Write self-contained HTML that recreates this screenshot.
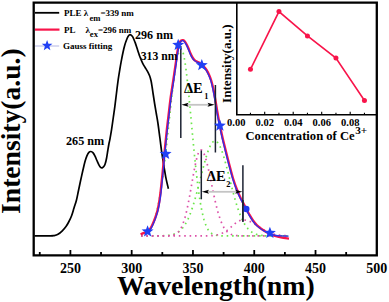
<!DOCTYPE html>
<html><head><meta charset="utf-8"><style>
html,body{margin:0;padding:0;background:#fff;width:389px;height:302px;overflow:hidden}
svg{display:block}
text{font-family:"Liberation Serif",serif;font-weight:bold}
</style></head><body>
<svg width="389" height="302" viewBox="0 0 389 302">
<rect width="389" height="302" fill="#fff"/>
<g font-family="Liberation Serif, serif" font-weight="bold">
<!-- gaussian components -->
<g fill="none" stroke-width="1.7" stroke-linecap="butt" stroke-dasharray="1.6 3.8">
<path d="M141.00,235.18 L142.00,234.95 L143.00,234.66 L144.00,234.29 L145.00,233.82 L146.00,233.24 L147.00,232.52 L148.00,231.64 L149.00,230.56 L150.00,229.25 L151.00,227.68 L152.00,225.82 L153.00,223.61 L154.00,221.02 L155.00,218.02 L156.00,214.55 L157.00,210.59 L158.00,206.11 L159.00,201.07 L160.00,195.46 L161.00,189.27 L162.00,182.51 L163.00,175.19 L164.00,167.34 L165.00,159.02 L166.00,150.29 L167.00,141.22 L168.00,131.91 L169.00,122.48 L170.00,113.05 L171.00,103.76 L172.00,94.74 L173.00,86.16 L174.00,78.16 L175.00,70.87 L176.00,64.45 L177.00,59.01 L178.00,54.65 L179.00,51.48 L180.00,49.55 L181.00,48.90 L182.00,49.76 L183.00,52.33 L184.00,56.52 L185.00,62.23 L186.00,69.31 L187.00,77.57 L188.00,86.80 L189.00,96.79 L190.00,107.31 L191.00,118.12 L192.00,129.02 L193.00,139.80 L194.00,150.29 L195.00,160.33 L196.00,169.81 L197.00,178.64 L198.00,186.74 L199.00,194.08 L200.00,200.66 L201.00,206.47 L202.00,211.55 L203.00,215.94 L204.00,219.69 L205.00,222.86 L206.00,225.50 L207.00,227.68 L208.00,229.47 L209.00,230.91 L210.00,232.07 L211.00,232.98 L212.00,233.70 L213.00,234.26 L214.00,234.68 L215.00,235.01 L216.00,235.25 L217.00,235.43 L218.00,235.57 L219.00,235.66 L220.00,235.73 L221.00,235.79 L222.00,235.82 L223.00,235.85 L224.00,235.86 L225.00,235.88 L226.00,235.88 L227.00,235.89 L228.00,235.89 L229.00,235.90 L230.00,235.90 L231.00,235.90 L232.00,235.90 L233.00,235.90 L234.00,235.90 L235.00,235.90 L236.00,235.90 L237.00,235.90 L238.00,235.90 L239.00,235.90 L240.00,235.90 L241.00,235.90 L242.00,235.90 L243.00,235.90 L244.00,235.90 L245.00,235.90 L246.00,235.90 L247.00,235.90 L248.00,235.90 L249.00,235.90 L250.00,235.90 L251.00,235.90 L252.00,235.90 L253.00,235.90 L254.00,235.90 L255.00,235.90 L256.00,235.90 L257.00,235.90 L258.00,235.90 L259.00,235.90 L260.00,235.90 L261.00,235.90 L262.00,235.90 L263.00,235.90 L264.00,235.90 L265.00,235.90 L266.00,235.90 L267.00,235.90 L268.00,235.90 L269.00,235.90 L270.00,235.90 L271.00,235.90 L272.00,235.90 L273.00,235.90 L274.00,235.90 L275.00,235.90 L276.00,235.90 L277.00,235.90 L278.00,235.90 L279.00,235.90 L280.00,235.90 L281.00,235.90 L282.00,235.90 L283.00,235.90 L284.00,235.90 L285.00,235.90 L286.00,235.90 L287.00,235.90 L288.00,235.90" stroke="#6ce64c"/>
<path d="M141.00,235.90 L142.00,235.90 L143.00,235.90 L144.00,235.90 L145.00,235.90 L146.00,235.90 L147.00,235.90 L148.00,235.90 L149.00,235.90 L150.00,235.90 L151.00,235.89 L152.00,235.89 L153.00,235.89 L154.00,235.89 L155.00,235.88 L156.00,235.88 L157.00,235.87 L158.00,235.86 L159.00,235.85 L160.00,235.83 L161.00,235.81 L162.00,235.78 L163.00,235.75 L164.00,235.70 L165.00,235.65 L166.00,235.59 L167.00,235.50 L168.00,235.40 L169.00,235.28 L170.00,235.13 L171.00,234.95 L172.00,234.73 L173.00,234.47 L174.00,234.16 L175.00,233.79 L176.00,233.35 L177.00,232.84 L178.00,232.24 L179.00,231.54 L180.00,230.74 L181.00,229.82 L182.00,228.77 L183.00,227.58 L184.00,226.24 L185.00,224.73 L186.00,223.04 L187.00,221.18 L188.00,219.12 L189.00,216.87 L190.00,214.41 L191.00,211.75 L192.00,208.90 L193.00,205.85 L194.00,202.61 L195.00,199.21 L196.00,195.64 L197.00,191.94 L198.00,188.12 L199.00,184.22 L200.00,180.27 L201.00,176.29 L202.00,172.34 L203.00,168.45 L204.00,164.66 L205.00,161.01 L206.00,157.55 L207.00,154.31 L208.00,151.35 L209.00,148.69 L210.00,146.38 L211.00,144.45 L212.00,142.91 L213.00,141.80 L214.00,141.13 L215.00,140.90 L216.00,141.13 L217.00,141.80 L218.00,142.91 L219.00,144.45 L220.00,146.38 L221.00,148.69 L222.00,151.35 L223.00,154.31 L224.00,157.55 L225.00,161.01 L226.00,164.66 L227.00,168.45 L228.00,172.34 L229.00,176.29 L230.00,180.27 L231.00,184.22 L232.00,188.12 L233.00,191.94 L234.00,195.64 L235.00,199.21 L236.00,202.61 L237.00,205.85 L238.00,208.90 L239.00,211.75 L240.00,214.41 L241.00,216.87 L242.00,219.12 L243.00,221.18 L244.00,223.04 L245.00,224.73 L246.00,226.24 L247.00,227.58 L248.00,228.77 L249.00,229.82 L250.00,230.74 L251.00,231.54 L252.00,232.24 L253.00,232.84 L254.00,233.35 L255.00,233.79 L256.00,234.16 L257.00,234.47 L258.00,234.73 L259.00,234.95 L260.00,235.13 L261.00,235.28 L262.00,235.40 L263.00,235.50 L264.00,235.59 L265.00,235.65 L266.00,235.70 L267.00,235.75 L268.00,235.78 L269.00,235.81 L270.00,235.83 L271.00,235.85 L272.00,235.86 L273.00,235.87 L274.00,235.88 L275.00,235.88 L276.00,235.89 L277.00,235.89 L278.00,235.89 L279.00,235.89 L280.00,235.90 L281.00,235.90 L282.00,235.90 L283.00,235.90 L284.00,235.90 L285.00,235.90 L286.00,235.90 L287.00,235.90 L288.00,235.90" stroke="#6ce64c"/>
<path d="M141.00,235.90 L142.00,235.90 L143.00,235.90 L144.00,235.90 L145.00,235.90 L146.00,235.90 L147.00,235.90 L148.00,235.90 L149.00,235.90 L150.00,235.90 L151.00,235.90 L152.00,235.90 L153.00,235.90 L154.00,235.90 L155.00,235.90 L156.00,235.90 L157.00,235.90 L158.00,235.90 L159.00,235.90 L160.00,235.90 L161.00,235.90 L162.00,235.89 L163.00,235.89 L164.00,235.88 L165.00,235.87 L166.00,235.85 L167.00,235.83 L168.00,235.79 L169.00,235.73 L170.00,235.65 L171.00,235.54 L172.00,235.39 L173.00,235.17 L174.00,234.88 L175.00,234.49 L176.00,233.97 L177.00,233.29 L178.00,232.43 L179.00,231.32 L180.00,229.95 L181.00,228.25 L182.00,226.20 L183.00,223.74 L184.00,220.84 L185.00,217.48 L186.00,213.65 L187.00,209.36 L188.00,204.62 L189.00,199.49 L190.00,194.04 L191.00,188.36 L192.00,182.58 L193.00,176.83 L194.00,171.25 L195.00,166.03 L196.00,161.30 L197.00,157.23 L198.00,153.96 L199.00,151.60 L200.00,150.24 L201.00,149.92 L202.00,150.44 L203.00,151.70 L204.00,153.66 L205.00,156.28 L206.00,159.48 L207.00,163.19 L208.00,167.32 L209.00,171.78 L210.00,176.48 L211.00,181.30 L212.00,186.17 L213.00,191.00 L214.00,195.72 L215.00,200.25 L216.00,204.55 L217.00,208.56 L218.00,212.27 L219.00,215.66 L220.00,218.71 L221.00,221.43 L222.00,223.82 L223.00,225.91 L224.00,227.70 L225.00,229.24 L226.00,230.53 L227.00,231.61 L228.00,232.50 L229.00,233.23 L230.00,233.82 L231.00,234.30 L232.00,234.67 L233.00,234.97 L234.00,235.20 L235.00,235.38 L236.00,235.52 L237.00,235.62 L238.00,235.70 L239.00,235.75 L240.00,235.80 L241.00,235.83 L242.00,235.85 L243.00,235.86 L244.00,235.88 L245.00,235.88 L246.00,235.89 L247.00,235.89 L248.00,235.89 L249.00,235.90 L250.00,235.90 L251.00,235.90 L252.00,235.90 L253.00,235.90 L254.00,235.90 L255.00,235.90 L256.00,235.90 L257.00,235.90 L258.00,235.90 L259.00,235.90 L260.00,235.90 L261.00,235.90 L262.00,235.90 L263.00,235.90 L264.00,235.90 L265.00,235.90 L266.00,235.90 L267.00,235.90 L268.00,235.90 L269.00,235.90 L270.00,235.90 L271.00,235.90 L272.00,235.90 L273.00,235.90 L274.00,235.90 L275.00,235.90 L276.00,235.90 L277.00,235.90 L278.00,235.90 L279.00,235.90 L280.00,235.90 L281.00,235.90 L282.00,235.90 L283.00,235.90 L284.00,235.90 L285.00,235.90 L286.00,235.90 L287.00,235.90 L288.00,235.90" stroke="#dc50a8"/>
<path d="M141.00,235.90 L142.00,235.90 L143.00,235.90 L144.00,235.90 L145.00,235.90 L146.00,235.90 L147.00,235.90 L148.00,235.90 L149.00,235.90 L150.00,235.90 L151.00,235.90 L152.00,235.90 L153.00,235.90 L154.00,235.90 L155.00,235.90 L156.00,235.90 L157.00,235.90 L158.00,235.90 L159.00,235.90 L160.00,235.90 L161.00,235.90 L162.00,235.90 L163.00,235.90 L164.00,235.90 L165.00,235.90 L166.00,235.90 L167.00,235.90 L168.00,235.90 L169.00,235.90 L170.00,235.90 L171.00,235.90 L172.00,235.90 L173.00,235.90 L174.00,235.90 L175.00,235.90 L176.00,235.90 L177.00,235.90 L178.00,235.90 L179.00,235.90 L180.00,235.90 L181.00,235.90 L182.00,235.90 L183.00,235.90 L184.00,235.90 L185.00,235.90 L186.00,235.90 L187.00,235.90 L188.00,235.90 L189.00,235.90 L190.00,235.90 L191.00,235.90 L192.00,235.90 L193.00,235.90 L194.00,235.90 L195.00,235.90 L196.00,235.90 L197.00,235.90 L198.00,235.90 L199.00,235.89 L200.00,235.89 L201.00,235.89 L202.00,235.88 L203.00,235.88 L204.00,235.87 L205.00,235.86 L206.00,235.84 L207.00,235.82 L208.00,235.80 L209.00,235.77 L210.00,235.72 L211.00,235.67 L212.00,235.60 L213.00,235.51 L214.00,235.40 L215.00,235.27 L216.00,235.11 L217.00,234.92 L218.00,234.69 L219.00,234.42 L220.00,234.10 L221.00,233.73 L222.00,233.31 L223.00,232.84 L224.00,232.30 L225.00,231.71 L226.00,231.05 L227.00,230.34 L228.00,229.59 L229.00,228.78 L230.00,227.94 L231.00,227.08 L232.00,226.20 L233.00,225.32 L234.00,224.45 L235.00,223.62 L236.00,222.83 L237.00,222.11 L238.00,221.47 L239.00,220.92 L240.00,220.48 L241.00,220.16 L242.00,219.97 L243.00,219.90 L244.00,219.94 L245.00,220.04 L246.00,220.22 L247.00,220.46 L248.00,220.76 L249.00,221.13 L250.00,221.55 L251.00,222.02 L252.00,222.54 L253.00,223.09 L254.00,223.67 L255.00,224.28 L256.00,224.91 L257.00,225.55 L258.00,226.20 L259.00,226.84 L260.00,227.48 L261.00,228.11 L262.00,228.73 L263.00,229.32 L264.00,229.90 L265.00,230.44 L266.00,230.96 L267.00,231.45 L268.00,231.91 L269.00,232.34 L270.00,232.73 L271.00,233.10 L272.00,233.43 L273.00,233.73 L274.00,234.01 L275.00,234.26 L276.00,234.48 L277.00,234.67 L278.00,234.85 L279.00,235.00 L280.00,235.14 L281.00,235.25 L282.00,235.36 L283.00,235.44 L284.00,235.52 L285.00,235.58 L286.00,235.64 L287.00,235.68 L288.00,235.72" stroke="#dc50a8"/>
</g>
<!-- PLE -->
<path d="M34.50,235.90 C37.08,235.90 46.75,235.95 50.00,235.90 C53.25,235.85 52.67,235.87 54.00,235.60 C55.33,235.33 56.62,235.10 58.00,234.30 C59.38,233.50 60.97,232.10 62.30,230.80 C63.63,229.50 64.93,227.97 66.00,226.50 C67.07,225.03 67.78,223.75 68.70,222.00 C69.62,220.25 70.62,218.33 71.50,216.00 C72.38,213.67 73.17,210.67 74.00,208.00 C74.83,205.33 75.77,202.83 76.50,200.00 C77.23,197.17 77.73,194.17 78.40,191.00 C79.07,187.83 79.73,184.53 80.50,181.00 C81.27,177.47 82.25,173.05 83.00,169.80 C83.75,166.55 84.35,163.83 85.00,161.50 C85.65,159.17 86.25,157.33 86.90,155.80 C87.55,154.27 88.23,153.02 88.90,152.30 C89.57,151.58 90.23,151.45 90.90,151.50 C91.57,151.55 92.23,151.88 92.90,152.60 C93.57,153.32 94.23,154.48 94.90,155.80 C95.57,157.12 96.23,159.00 96.90,160.50 C97.57,162.00 98.28,163.67 98.90,164.80 C99.52,165.93 100.05,166.80 100.60,167.30 C101.15,167.80 101.67,167.92 102.20,167.80 C102.73,167.68 103.30,167.27 103.80,166.60 C104.30,165.93 104.73,165.23 105.20,163.80 C105.67,162.37 106.17,160.22 106.60,158.00 C107.03,155.78 107.42,152.83 107.80,150.50 C108.18,148.17 108.55,145.87 108.90,144.00 C109.25,142.13 109.45,141.73 109.90,139.30 C110.35,136.87 111.03,133.03 111.60,129.40 C112.17,125.77 112.75,121.37 113.30,117.50 C113.85,113.63 114.37,110.28 114.90,106.20 C115.43,102.12 115.95,97.42 116.50,93.00 C117.05,88.58 117.65,83.62 118.20,79.70 C118.75,75.78 119.25,72.80 119.80,69.50 C120.35,66.20 120.93,62.90 121.50,59.90 C122.07,56.90 122.65,53.98 123.20,51.50 C123.75,49.02 124.25,46.92 124.80,45.00 C125.35,43.08 125.93,41.45 126.50,40.00 C127.07,38.55 127.60,37.20 128.20,36.30 C128.80,35.40 129.37,34.55 130.10,34.60 C130.83,34.65 131.77,35.30 132.60,36.60 C133.43,37.90 134.27,40.18 135.10,42.40 C135.93,44.62 136.77,47.42 137.60,49.90 C138.43,52.38 139.27,55.10 140.10,57.30 C140.93,59.50 141.78,61.43 142.60,63.10 C143.42,64.77 144.18,65.92 145.00,67.30 C145.82,68.68 146.73,69.98 147.50,71.40 C148.27,72.82 149.00,74.20 149.60,75.80 C150.20,77.40 150.67,79.05 151.10,81.00 C151.53,82.95 151.83,85.17 152.20,87.50 C152.57,89.83 152.90,92.33 153.30,95.00 C153.70,97.67 154.12,100.50 154.60,103.50 C155.08,106.50 155.65,109.75 156.20,113.00 C156.75,116.25 157.28,118.83 157.90,123.00 C158.52,127.17 159.23,132.93 159.90,138.00 C160.57,143.07 161.23,148.73 161.90,153.40 C162.57,158.07 163.25,162.02 163.90,166.00 C164.55,169.98 165.05,173.50 165.80,177.30 C166.55,181.10 167.97,186.88 168.40,188.80" fill="none" stroke="#000" stroke-width="1.7"/>
<!-- PL red + blue fit -->
<path d="M140.60,234.30 C141.13,234.08 142.70,233.28 143.80,233.00 C144.90,232.72 146.17,233.23 147.20,232.60 C148.23,231.97 149.15,230.47 150.00,229.20 C150.85,227.93 151.47,226.78 152.30,225.00 C153.13,223.22 154.13,220.90 155.00,218.50 C155.87,216.10 156.80,213.35 157.50,210.60 C158.20,207.85 158.68,205.10 159.20,202.00 C159.72,198.90 160.05,196.67 160.60,192.00 C161.15,187.33 161.87,180.37 162.50,174.00 C163.13,167.63 163.73,160.63 164.40,153.80 C165.07,146.97 165.82,139.30 166.50,133.00 C167.18,126.70 167.83,121.67 168.50,116.00 C169.17,110.33 169.72,104.83 170.50,99.00 C171.28,93.17 172.30,87.08 173.20,81.00 C174.10,74.92 175.13,67.75 175.90,62.50 C176.67,57.25 177.20,52.75 177.80,49.50 C178.40,46.25 178.92,44.50 179.50,43.00 C180.08,41.50 180.72,40.97 181.30,40.50 C181.88,40.03 182.42,40.03 183.00,40.20 C183.58,40.37 184.22,40.83 184.80,41.50 C185.38,42.17 185.88,43.03 186.50,44.20 C187.12,45.37 187.83,46.95 188.50,48.50 C189.17,50.05 189.83,52.00 190.50,53.50 C191.17,55.00 191.78,56.37 192.50,57.50 C193.22,58.63 194.05,59.62 194.80,60.30 C195.55,60.98 196.30,61.23 197.00,61.60 C197.70,61.97 198.25,62.07 199.00,62.50 C199.75,62.93 200.67,63.50 201.50,64.20 C202.33,64.90 203.17,65.73 204.00,66.70 C204.83,67.67 205.67,68.65 206.50,70.00 C207.33,71.35 208.22,73.05 209.00,74.80 C209.78,76.55 210.50,78.22 211.20,80.50 C211.90,82.78 212.57,85.58 213.20,88.50 C213.83,91.42 214.38,94.50 215.00,98.00 C215.62,101.50 216.32,106.08 216.90,109.50 C217.48,112.92 218.00,115.83 218.50,118.50 C219.00,121.17 219.40,123.08 219.90,125.50 C220.40,127.92 220.95,130.50 221.50,133.00 C222.05,135.50 222.48,137.50 223.20,140.50 C223.92,143.50 224.97,147.67 225.80,151.00 C226.63,154.33 227.38,157.33 228.20,160.50 C229.02,163.67 229.87,166.92 230.70,170.00 C231.53,173.08 232.23,175.92 233.20,179.00 C234.17,182.08 235.40,185.62 236.50,188.50 C237.60,191.38 238.70,193.92 239.80,196.30 C240.90,198.68 242.07,200.77 243.10,202.80 C244.13,204.83 245.02,206.63 246.00,208.50 C246.98,210.37 247.83,212.00 249.00,214.00 C250.17,216.00 251.67,218.62 253.00,220.50 C254.33,222.38 255.33,223.73 257.00,225.30 C258.67,226.87 260.90,228.50 263.00,229.90 C265.10,231.30 267.60,232.70 269.60,233.70 C271.60,234.70 273.10,235.28 275.00,235.90 C276.90,236.52 278.67,236.95 281.00,237.40 C283.33,237.85 287.67,238.40 289.00,238.60" fill="none" stroke="#f8144a" stroke-width="2.4"/>
<path d="M147.55,232.89 C148.02,232.31 149.51,230.73 150.37,229.45 C151.23,228.17 151.87,226.99 152.71,225.19 C153.55,223.39 154.55,221.07 155.42,218.65 C156.29,216.24 157.23,213.47 157.94,210.71 C158.64,207.95 159.13,205.18 159.64,202.07 C160.16,198.96 160.50,196.72 161.05,192.05 C161.60,187.38 162.31,180.41 162.95,174.04 C163.58,167.68 164.18,160.68 164.85,153.84 C165.51,147.01 166.26,139.35 166.95,133.05 C167.63,126.75 168.28,121.72 168.95,116.05 C169.61,110.39 170.16,104.89 170.95,99.06 C171.73,93.23 172.75,87.15 173.65,81.07 C174.55,74.98 175.58,67.81 176.35,62.57 C177.11,57.32 177.65,52.82 178.24,49.58 C178.84,46.35 179.36,44.62 179.92,43.16 C180.48,41.71 181.09,41.27 181.58,40.85 C182.07,40.43 182.40,40.48 182.88,40.63 C183.36,40.79 183.92,41.17 184.46,41.80 C185.00,42.43 185.50,43.26 186.10,44.41 C186.71,45.56 187.42,47.13 188.09,48.68 C188.75,50.22 189.42,52.17 190.09,53.68 C190.76,55.19 191.38,56.58 192.12,57.74 C192.85,58.90 193.72,59.92 194.50,60.63 C195.28,61.34 196.08,61.62 196.79,62.00 C197.50,62.37 198.04,62.47 198.77,62.89 C199.51,63.31 200.40,63.86 201.21,64.54 C202.02,65.23 202.84,66.05 203.66,66.99 C204.48,67.94 205.30,68.90 206.12,70.24 C206.94,71.57 207.81,73.25 208.59,74.98 C209.36,76.72 210.07,78.36 210.77,80.63 C211.46,82.90 212.13,85.69 212.76,88.60 C213.39,91.50 213.94,94.58 214.56,98.08 C215.17,101.57 215.87,106.16 216.46,109.58 C217.04,112.99 217.56,115.91 218.06,118.58 C218.56,121.25 218.96,123.17 219.46,125.59 C219.96,128.01 220.51,130.59 221.06,133.10 C221.61,135.60 222.05,137.60 222.76,140.60 C223.48,143.61 224.53,147.77 225.36,151.11 C226.20,154.44 226.95,157.44 227.76,160.61 C228.58,163.78 229.43,167.03 230.27,170.12 C231.10,173.20 231.80,176.04 232.77,179.13 C233.74,182.23 234.98,185.77 236.08,188.66 C237.18,191.55 238.29,194.10 239.39,196.49 C240.49,198.88 241.66,200.97 242.70,203.00 C243.73,205.04 244.62,206.84 245.60,208.71 C246.59,210.58 247.44,212.22 248.61,214.23 C249.78,216.24 251.29,218.86 252.63,220.76 C253.98,222.66 255.00,224.04 256.69,225.63 C258.38,227.21 260.64,228.95 262.76,230.28 C264.88,231.61 267.40,232.79 269.43,233.62 C271.45,234.44 272.99,234.85 274.91,235.24 C276.83,235.63 278.69,235.81 280.97,235.95 C283.25,236.08 287.32,236.03 288.59,236.05" fill="none" stroke="#2a30ec" stroke-width="1.3"/>
<!-- marker lines -->
<g stroke="#1c2232" stroke-width="1.5">
<line x1="180.8" y1="46" x2="180.8" y2="138"/>
<line x1="215.4" y1="85" x2="215.4" y2="152.5"/>
<line x1="201.3" y1="150.5" x2="201.3" y2="199.3"/>
<line x1="242.9" y1="165.3" x2="242.9" y2="221.8"/>
</g>
<g stroke="#c4c4c4" stroke-width="1.8">
<line x1="186" y1="104.8" x2="210" y2="104.8"/>
<line x1="206" y1="191.8" x2="238" y2="191.8"/>
</g>
<g fill="#000">
<path d="M181.4,104.8 L188.6,102.8 L187.2,104.8 L188.6,106.8Z"/>
<path d="M214.7,104.8 L207.5,102.8 L208.9,104.8 L207.5,106.8Z"/>
<path d="M201.8,191.8 L209,189.8 L207.6,191.8 L209,193.8Z"/>
<path d="M242.4,191.8 L235.2,189.8 L236.6,191.8 L235.2,193.8Z"/>
</g>
<circle cx="246.3" cy="209" r="3.2" fill="#2038f0"/>
<line x1="242.9" y1="200" x2="242.9" y2="221.8" stroke="#1c2232" stroke-width="1.5"/>
<g fill="#2040f4">
<path d="M147.60,225.20 L149.16,229.36 L153.59,229.55 L150.12,232.32 L151.30,236.60 L147.60,234.15 L143.90,236.60 L145.08,232.32 L141.61,229.55 L146.04,229.36Z"/><path d="M165.60,147.70 L167.16,151.86 L171.59,152.05 L168.12,154.82 L169.30,159.10 L165.60,156.65 L161.90,159.10 L163.08,154.82 L159.61,152.05 L164.04,151.86Z"/><path d="M178.20,38.70 L179.76,42.86 L184.19,43.05 L180.72,45.82 L181.90,50.10 L178.20,47.65 L174.50,50.10 L175.68,45.82 L172.21,43.05 L176.64,42.86Z"/><path d="M201.80,58.90 L203.36,63.06 L207.79,63.25 L204.32,66.02 L205.50,70.30 L201.80,67.85 L198.10,70.30 L199.28,66.02 L195.81,63.25 L200.24,63.06Z"/><path d="M219.90,119.30 L221.46,123.46 L225.89,123.65 L222.42,126.42 L223.60,130.70 L219.90,128.25 L216.20,130.70 L217.38,126.42 L213.91,123.65 L218.34,123.46Z"/><path d="M269.90,226.70 L271.46,230.86 L275.89,231.05 L272.42,233.82 L273.60,238.10 L269.90,235.65 L266.20,238.10 L267.38,233.82 L263.91,231.05 L268.34,230.86Z"/>
</g>
<text x="184.0" y="92.5" font-size="14.5">ΔE<tspan font-size="8.3" dx="1.6" dy="6">1</tspan></text>
<text x="206.8" y="180.5" font-size="14.5">ΔE<tspan font-size="8.3" dx="0.6" dy="6.3">2</tspan></text>
<!-- peak labels -->
<text x="66.0" y="144.5" font-size="12.2">265 nm</text>
<text x="135.0" y="38.5" font-size="12.1">296 nm</text>
<text x="140.7" y="59.9" font-size="11.7">313 nm</text>
<!-- legend -->
<line x1="35" y1="12.8" x2="59.2" y2="12.8" stroke="#000" stroke-width="1.8"/>
<line x1="35" y1="29.6" x2="59.5" y2="29.6" stroke="#f8144a" stroke-width="2.2"/>
<line x1="35" y1="46" x2="59.2" y2="46" stroke="#c4c6ea" stroke-width="1.3"/>
<path d="M47.10,40.00 L48.48,43.70 L52.43,43.87 L49.34,46.33 L50.39,50.13 L47.10,47.95 L43.81,50.13 L44.86,46.33 L41.77,43.87 L45.72,43.70Z" fill="#2040f4"/>
<g font-size="9">
<text x="63.9" y="16.1">PLE λ<tspan font-size="8.6" dx="1.4" dy="4.5">em</tspan><tspan dy="-4.5">=339 nm</tspan></text>
<text x="63.9" y="32.7">PL<tspan dx="10">λ</tspan><tspan font-size="8.6" dy="4.5">ex</tspan><tspan dy="-4.5">=296 nm</tspan></text>
<text x="62.9" y="49.2">Gauss fitting</text>
</g>
<!-- inset -->
<rect x="236.4" y="2" width="140.6" height="112.6" fill="#fff"/>
<path d="M250.45,69.30 L278.95,11.60 L307.45,35.90 L335.95,58.00 L364.45,100.50" fill="none" stroke="#f8144a" stroke-width="1.6"/>
<g fill="#f8144a"><circle cx="250.45" cy="69.30" r="2.5"/><circle cx="278.95" cy="11.60" r="2.5"/><circle cx="307.45" cy="35.90" r="2.5"/><circle cx="335.95" cy="58.00" r="2.5"/><circle cx="364.45" cy="100.50" r="2.5"/></g>
<g stroke="#000" stroke-width="1.1"><line x1="250.45" y1="114.5" x2="250.45" y2="112.70"/><line x1="264.70" y1="114.5" x2="264.70" y2="111.70"/><line x1="278.95" y1="114.5" x2="278.95" y2="112.70"/><line x1="293.20" y1="114.5" x2="293.20" y2="111.70"/><line x1="307.45" y1="114.5" x2="307.45" y2="112.70"/><line x1="321.70" y1="114.5" x2="321.70" y2="111.70"/><line x1="335.95" y1="114.5" x2="335.95" y2="112.70"/><line x1="350.20" y1="114.5" x2="350.20" y2="111.70"/><line x1="364.45" y1="114.5" x2="364.45" y2="112.70"/></g>
<path d="M236.8,2 V114.7 H377" fill="none" stroke="#000" stroke-width="1.6"/>
<g font-size="10.5"><text x="236.20" y="125.6" text-anchor="middle">0.00</text><text x="264.70" y="125.6" text-anchor="middle">0.02</text><text x="293.20" y="125.6" text-anchor="middle">0.04</text><text x="321.70" y="125.6" text-anchor="middle">0.06</text><text x="350.20" y="125.6" text-anchor="middle">0.08</text></g>
<text x="245.5" y="140.3" font-size="12.6">Concentration of Ce<tspan font-size="11.2" dy="-6.3" dx="0.6">3+</tspan></text>
<text transform="translate(231.3,102.9) rotate(-90)" font-size="13.1">Intensity(a.u.)</text>
<!-- main frame -->
<g stroke="#000" stroke-width="1.8"><line x1="39.76" y1="255" x2="39.76" y2="252.00"/><line x1="70.40" y1="255" x2="70.40" y2="250.00"/><line x1="101.04" y1="255" x2="101.04" y2="252.00"/><line x1="131.68" y1="255" x2="131.68" y2="250.00"/><line x1="162.32" y1="255" x2="162.32" y2="252.00"/><line x1="192.96" y1="255" x2="192.96" y2="250.00"/><line x1="223.60" y1="255" x2="223.60" y2="252.00"/><line x1="254.24" y1="255" x2="254.24" y2="250.00"/><line x1="284.88" y1="255" x2="284.88" y2="252.00"/><line x1="315.52" y1="255" x2="315.52" y2="250.00"/><line x1="346.16" y1="255" x2="346.16" y2="252.00"/></g>
<path d="M33.7,2.6 H376.8 V255.4 H33.7 Z" fill="none" stroke="#000" stroke-width="2.3"/>
<g font-size="14"><text x="70.40" y="272.5" text-anchor="middle">250</text><text x="131.68" y="272.5" text-anchor="middle">300</text><text x="192.96" y="272.5" text-anchor="middle">350</text><text x="254.24" y="272.5" text-anchor="middle">400</text><text x="315.52" y="272.5" text-anchor="middle">450</text><text x="376.80" y="272.5" text-anchor="middle">500</text></g>
<text x="117" y="295" font-size="27.8">Wavelength(nm)</text>
<text transform="translate(20.3,213.9) rotate(-90)" font-size="27.6">Intensity(a.u.)</text>
</g>
</svg>
</body></html>
